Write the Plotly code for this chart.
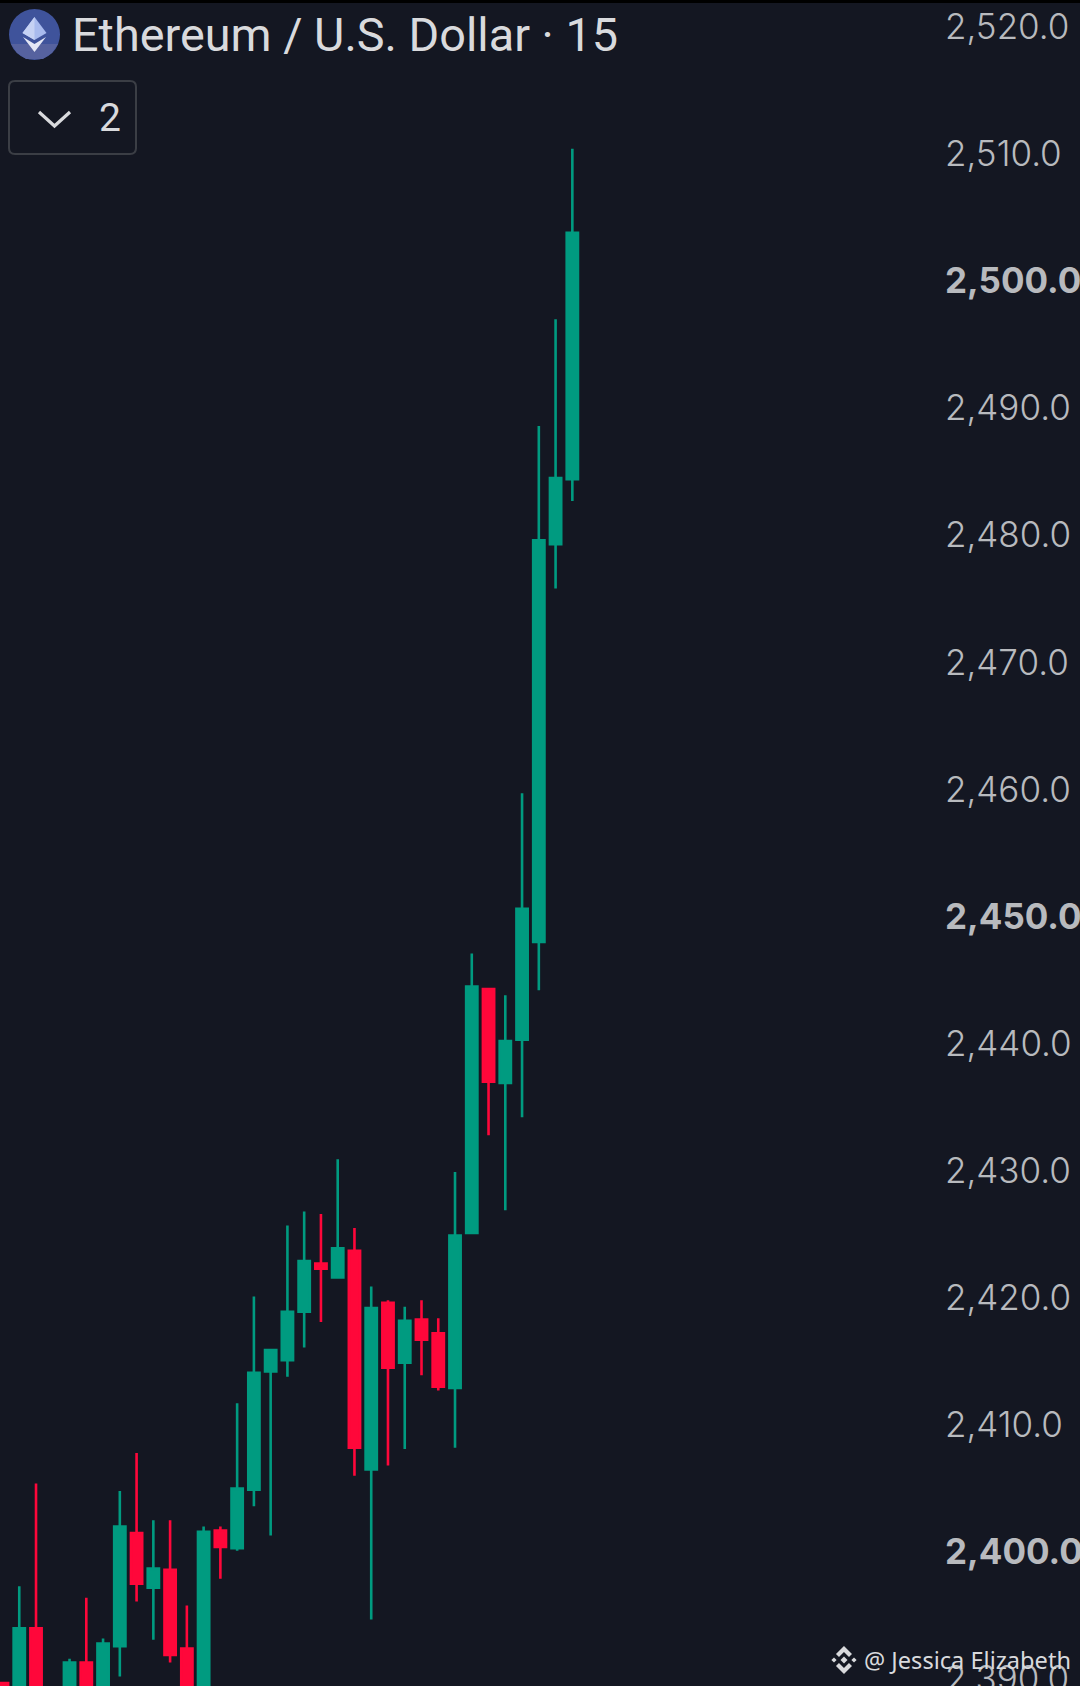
import plotly.graph_objects as go

W = 1080
H = 1686

candle_index = list(range(35))
opens = [2389.7, 2385.0, 2394.0, 2381.0, 2383.0, 2391.3, 2386.0, 2392.6, 2401.5, 2397.2, 2398.6, 2392.4,
         2383.0, 2401.7, 2400.3, 2404.9, 2414.2, 2415.1, 2418.9, 2422.7, 2421.6, 2423.7, 2406.5, 2419.6,
         2414.9, 2418.3, 2417.2, 2412.9, 2425.1, 2444.3, 2436.9, 2440.3, 2448.0, 2479.3, 2484.4]
highs = [2389.7, 2397.3, 2405.4, 2385.0, 2391.6, 2396.4, 2393.2, 2404.8, 2407.8, 2402.5, 2402.5, 2395.8,
         2402.0, 2402.0, 2411.7, 2420.1, 2415.9, 2425.7, 2426.8, 2426.6, 2430.9, 2425.5, 2420.9, 2419.8,
         2419.3, 2419.8, 2418.4, 2429.9, 2447.1, 2444.3, 2443.8, 2459.7, 2488.6, 2497.0, 2510.4]
lows = [2383.0, 2383.0, 2382.0, 2379.0, 2381.0, 2384.0, 2384.0, 2390.2, 2396.1, 2393.1, 2391.3, 2384.0,
        2381.0, 2397.9, 2400.1, 2403.6, 2401.3, 2413.8, 2416.1, 2418.1, 2421.6, 2406.0, 2394.7, 2406.8,
        2408.1, 2413.9, 2412.7, 2408.2, 2425.0, 2432.8, 2426.9, 2434.2, 2444.2, 2475.8, 2482.7]
closes = [2385.0, 2394.0, 2384.0, 2384.0, 2391.3, 2385.0, 2392.8, 2402.0, 2397.5, 2398.7, 2391.9, 2385.0,
          2401.6, 2400.4, 2405.0, 2414.1, 2415.9, 2418.9, 2422.9, 2422.3, 2423.9, 2408.2, 2419.2, 2414.5,
          2418.2, 2416.7, 2413.0, 2424.9, 2444.5, 2437.0, 2440.2, 2450.6, 2479.6, 2484.5, 2503.8]

tick_values = [2390, 2400, 2410, 2420, 2430, 2440, 2450, 2460, 2470, 2480, 2490, 2500, 2510, 2520]
tick_labels = ['2,390.0', '<b>2,400.0</b>', '2,410.0', '2,420.0', '2,430.0', '2,440.0', '<b>2,450.0</b>',
               '2,460.0', '2,470.0', '2,480.0', '2,490.0', '<b>2,500.0</b>', '2,510.0', '2,520.0']

BG = '#141722'
GREEN = '#009b80'
RED = '#ff073a'
LABEL = '#b8babe'
TEXT = '#d9dadd'


def px(x, y):
    return x / W, 1 - y / H


def poly(points, fill, line=None, width=0, close=True):
    # polygon or polyline given in page pixels
    parts = []
    for i, (x, y) in enumerate(points):
        u, v = px(x, y)
        parts.append('{} {:.5f} {:.5f}'.format('M' if i == 0 else 'L', u, v))
    path = ' '.join(parts) + (' Z' if close else '')
    return dict(type='path', xref='paper', yref='paper', path=path, fillcolor=fill,
                line=dict(color=line or fill, width=width), layer='above')


def circle(cx, cy, r, fill):
    x0, y0 = px(cx - r, cy + r)
    x1, y1 = px(cx + r, cy - r)
    return dict(type='circle', xref='paper', yref='paper', x0=x0, y0=y0, x1=x1, y1=y1,
                fillcolor=fill, line=dict(width=0), layer='above')


def diamond(cx, cy, r, fill):
    return poly([(cx, cy - r), (cx + r, cy), (cx, cy + r), (cx - r, cy)], fill)


def round_box(x0, y0, x1, y1, r, color, width):
    c = [(x0 + r, y0), (x1 - r, y0), (x1, y0), (x1, y0 + r), (x1, y1 - r), (x1, y1), (x1 - r, y1),
         (x0 + r, y1), (x0, y1), (x0, y1 - r), (x0, y0 + r), (x0, y0), (x0 + r, y0)]
    p = ['{:.5f} {:.5f}'.format(*px(*q)) for q in c]
    path = 'M {} L {} Q {} {} L {} Q {} {} L {} Q {} {} L {} Q {} {} Z'.format(*p)
    return dict(type='path', xref='paper', yref='paper', path=path, fillcolor='rgba(0,0,0,0)',
                line=dict(color=color, width=width), layer='above')


fig = go.Figure()
fig.add_trace(go.Candlestick(
    x=candle_index, open=opens, high=highs, low=lows, close=closes,
    increasing=dict(line=dict(color=GREEN, width=2.6), fillcolor=GREEN),
    decreasing=dict(line=dict(color=RED, width=2.6), fillcolor=RED),
    whiskerwidth=0, showlegend=False,
))

shapes = [
    # black strip along the top of the screenshot
    dict(type='rect', xref='paper', yref='paper', x0=0, x1=1, y0=1 - 3 / H, y1=1,
         fillcolor='#000000', line=dict(width=0), layer='above'),
    # ethereum icon
    circle(34.5, 34.5, 25.5, '#3f539b'),
    poly([(11, 44), (58, 44), (52, 53), (43, 59), (26, 59), (17, 53)], '#56629f'),
    poly([(34.5, 17), (46.5, 33), (34.5, 40), (22.5, 33)], '#a9bbee'),
    poly([(34.5, 17), (34.5, 40), (22.5, 33)], '#c6d2f4'),
    poly([(23, 37), (34.5, 44), (46, 37), (34.5, 52)], '#e4e7f5'),
    # collapse button
    round_box(9, 81, 136, 154, 6, '#3b3e45', 2),
    poly([(39, 112), (54.5, 126), (70, 112)], 'rgba(0,0,0,0)', line=TEXT, width=3.2, close=False),
    # watermark logo
    diamond(844, 1660, 3.5, TEXT),
    diamond(834, 1660, 2.6, TEXT),
    diamond(854, 1660, 2.6, TEXT),
    poly([(844, 1646), (852, 1654), (849, 1657), (844, 1652), (839, 1657), (836, 1654)], TEXT),
    poly([(844, 1674), (852, 1666), (849, 1663), (844, 1668), (839, 1663), (836, 1666)], TEXT),
]

annotations = [
    dict(text='Ethereum / U.S. Dollar · 15', x=px(70, 0)[0], y=px(0, 35)[1], xref='paper', yref='paper',
         xanchor='left', yanchor='middle', showarrow=False,
         font=dict(family='Roboto', size=46.8, color=TEXT)),
    dict(text='2', x=px(110, 0)[0], y=px(0, 118)[1], xref='paper', yref='paper',
         xanchor='center', yanchor='middle', showarrow=False,
         font=dict(family='Roboto', size=39, color=TEXT)),
    dict(text='@ Jessica Elizabeth', x=px(862, 0)[0], y=px(0, 1660)[1], xref='paper', yref='paper',
         xanchor='left', yanchor='middle', showarrow=False,
         font=dict(family='Noto Sans', size=23.6, color=TEXT)),
]

fig.update_layout(
    width=W, height=H, autosize=False,
    margin=dict(l=0, r=0, t=0, b=0),
    paper_bgcolor=BG, plot_bgcolor=BG,
    showlegend=False, boxgap=0.04,
    shapes=shapes, annotations=annotations,
    xaxis=dict(range=[-0.149, 64.29], showgrid=False, zeroline=False, showticklabels=False,
               ticks='', rangeslider=dict(visible=False), domain=[0, 1], fixedrange=True),
    yaxis=dict(range=[2389.46, 2522.11], side='right', anchor='free', position=944 / W,
               tickmode='array', tickvals=tick_values, ticktext=tick_labels,
               ticks='', showgrid=False, zeroline=False, showline=False,
               ticklabeloverflow='allow', automargin=False,
               tickfont=dict(family='Inter', size=35, color=LABEL, weight=300), fixedrange=True),
)

# the figure is exactly page sized, drop the browser's default body margin
fig.write_html("out.html", config=dict(displayModeBar=False),
               post_script="document.body.style.margin='0';")
